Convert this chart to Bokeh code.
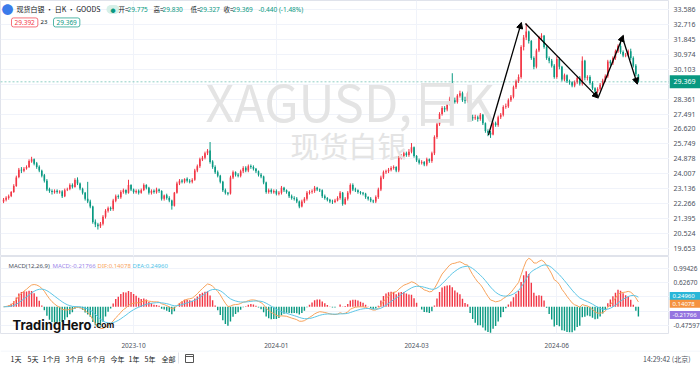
import numpy as np
import pandas as pd
from bokeh.plotting import figure
from bokeh.models import (Range1d, FixedTicker, Label, Span, Arrow, NormalHead,
                          ColumnDataSource, LinearAxis)
from bokeh.layouts import column, row
from bokeh.embed import file_html
from bokeh.resources import INLINE
from bokeh.core.properties import value

# ---------------- data ----------------
opens = [
    22.40, 22.50, 22.60, 22.72, 22.95, 23.30, 23.82, 24.25, 24.18, 24.32,
    24.40, 24.72, 24.85, 24.62, 24.42, 24.18, 23.92, 23.60, 23.12, 23.00,
    22.93, 23.02, 22.94, 22.98, 22.70, 23.06, 23.12, 23.36, 23.24, 23.66,
    23.45, 23.14, 22.90, 22.56, 22.40, 22.10, 21.22, 21.05, 20.95, 21.10,
    21.50, 21.86, 22.02, 21.95, 22.44, 22.72, 22.64, 22.95, 23.06, 22.90,
    23.36, 23.10, 22.94, 23.02, 22.90, 23.06, 23.36, 23.20, 22.90, 23.02,
    22.94, 23.10, 23.00, 22.55, 22.76, 22.60, 22.45, 22.15, 22.90, 23.45,
    23.62, 23.55, 23.72, 23.60, 23.55, 23.66, 24.20, 24.45, 24.84, 24.95,
    25.20, 25.36, 24.72, 24.40, 24.10, 23.90, 23.55, 23.05, 22.90, 22.86,
    23.80, 24.10, 23.95, 23.90, 24.15, 24.36, 24.20, 24.46, 24.40, 24.30,
    24.15, 23.95, 23.85, 23.50, 22.95, 23.06, 22.94, 23.00, 22.85, 22.90,
    23.20, 23.05, 22.95, 22.70, 22.60, 22.56, 22.40, 22.10, 22.40, 22.55,
    22.90, 22.96, 23.00, 23.20, 23.10, 23.05, 22.70, 22.60, 22.50, 22.40,
    22.36, 22.45, 22.60, 22.90, 22.25, 22.55, 22.90, 23.36, 23.10, 23.05,
    22.95, 22.90, 22.85, 22.65, 22.55, 22.45, 22.40, 22.65, 23.10, 23.80,
    24.10, 24.15, 24.25, 24.35, 24.40, 24.20, 24.95, 25.05, 25.20, 25.10,
    25.30, 25.55, 25.05, 24.80, 24.65, 24.70, 24.55, 24.85, 24.75, 25.20,
    26.15, 26.90, 27.50, 27.85, 27.75, 28.10, 28.40, 28.30, 28.20, 28.55,
    28.70, 28.30, 28.25, 28.70, 27.30, 27.25, 27.30, 27.20, 27.45, 26.95,
    26.50, 26.40, 26.30, 26.95, 26.85, 27.30, 27.45, 27.90, 27.95, 28.30,
    28.50, 29.05, 29.40, 29.65, 31.40, 31.95, 32.30, 31.75, 30.75, 30.25,
    31.20, 31.95, 32.05, 31.40, 30.75, 30.60, 30.30, 29.65, 30.70, 30.25,
    29.50, 29.75, 29.40, 29.35, 29.15, 29.35, 29.60, 29.25, 30.60, 29.60,
    29.65, 29.30, 29.00, 28.80, 28.95, 29.20, 29.45, 29.70, 30.55, 30.45,
    30.75, 31.15, 31.45, 31.10, 30.90, 30.95, 31.15, 30.75, 30.30, 29.775,
]
highs = [
    22.60, 22.70, 22.80, 23.00, 23.40, 23.90, 24.35, 24.40, 24.40, 24.50,
    24.85, 25.00, 24.90, 24.70, 24.50, 24.25, 24.00, 23.70, 23.20, 23.10,
    23.10, 23.10, 23.05, 23.05, 23.15, 23.20, 23.45, 23.45, 23.75, 23.80,
    23.50, 23.20, 22.95, 23.54, 22.50, 22.15, 21.35, 21.15, 21.20, 21.60,
    21.95, 22.10, 22.10, 22.55, 22.80, 22.80, 23.05, 23.15, 23.10, 23.66,
    23.40, 23.15, 23.10, 23.10, 23.15, 23.45, 23.40, 23.25, 23.10, 23.10,
    23.20, 23.15, 23.05, 22.80, 22.85, 22.70, 22.50, 22.95, 23.55, 23.70,
    23.70, 23.75, 23.80, 23.70, 23.75, 24.30, 24.55, 24.95, 25.05, 25.30,
    25.45, 25.86, 24.80, 24.50, 24.20, 23.95, 23.60, 23.15, 22.95, 23.90,
    24.20, 24.15, 24.05, 24.25, 24.45, 24.45, 24.55, 24.55, 24.50, 24.35,
    24.20, 24.05, 23.90, 23.55, 23.15, 23.15, 23.10, 23.10, 23.00, 23.30,
    23.25, 23.10, 23.00, 22.80, 22.70, 22.65, 22.45, 22.50, 22.65, 23.00,
    23.05, 23.10, 23.30, 23.25, 23.15, 23.10, 22.80, 22.65, 22.55, 22.50,
    22.55, 22.70, 23.00, 22.95, 22.65, 23.00, 23.45, 23.45, 23.20, 23.10,
    23.00, 22.95, 22.90, 22.70, 22.65, 22.50, 22.75, 23.20, 23.90, 24.20,
    24.25, 24.35, 24.45, 24.50, 24.45, 25.05, 25.15, 25.30, 25.30, 25.45,
    25.80, 25.60, 25.10, 24.90, 24.80, 24.75, 24.95, 24.90, 25.30, 26.25,
    27.00, 27.60, 27.95, 27.95, 28.20, 28.50, 29.87, 28.45, 28.65, 28.85,
    28.80, 28.50, 28.80, 28.75, 27.45, 27.45, 27.40, 27.55, 27.50, 27.00,
    26.60, 26.50, 27.05, 27.05, 27.40, 27.55, 28.00, 28.10, 28.40, 28.60,
    29.15, 29.50, 29.80, 31.50, 32.10, 32.77, 32.35, 31.80, 30.85, 31.30,
    32.05, 32.20, 32.10, 31.45, 30.85, 30.70, 30.40, 30.85, 30.80, 30.30,
    29.85, 29.80, 29.50, 29.40, 29.45, 29.70, 29.70, 30.85, 30.65, 29.75,
    29.75, 29.40, 29.05, 29.05, 29.30, 29.55, 29.80, 30.65, 30.65, 30.85,
    31.25, 31.55, 31.80, 31.20, 31.05, 31.25, 31.30, 30.85, 30.40, 29.830,
]
lows = [
    22.30, 22.40, 22.50, 22.65, 22.90, 23.25, 23.75, 24.05, 24.10, 24.25,
    24.35, 24.65, 24.50, 24.30, 24.10, 23.80, 23.50, 23.00, 22.90, 22.80,
    22.85, 22.85, 22.85, 22.60, 22.65, 23.00, 23.05, 23.15, 23.20, 23.35,
    23.05, 22.80, 22.45, 22.30, 22.00, 21.10, 20.90, 20.76, 20.85, 21.00,
    21.40, 21.75, 21.85, 21.85, 22.35, 22.55, 22.55, 22.85, 22.80, 22.85,
    23.00, 22.85, 22.85, 22.80, 22.85, 23.00, 23.10, 22.80, 22.80, 22.85,
    22.85, 22.90, 22.45, 22.45, 22.50, 22.35, 21.92, 22.10, 22.85, 23.35,
    23.45, 23.45, 23.50, 23.45, 23.45, 23.60, 24.10, 24.35, 24.75, 24.85,
    25.10, 24.60, 24.30, 24.00, 23.80, 23.45, 22.95, 22.80, 22.75, 22.80,
    23.70, 23.85, 23.80, 23.80, 24.05, 24.10, 24.10, 24.30, 24.20, 24.05,
    23.85, 23.75, 23.40, 22.85, 22.85, 22.85, 22.85, 22.75, 22.75, 22.80,
    22.95, 22.85, 22.60, 22.50, 22.45, 22.30, 22.00, 22.05, 22.30, 22.45,
    22.80, 22.85, 22.90, 23.00, 22.95, 22.60, 22.50, 22.40, 22.30, 22.25,
    22.30, 22.40, 22.50, 22.15, 22.20, 22.45, 22.80, 23.00, 22.95, 22.85,
    22.80, 22.75, 22.55, 22.45, 22.35, 22.30, 22.30, 22.55, 23.00, 23.70,
    24.00, 24.05, 24.15, 24.25, 24.10, 24.10, 24.85, 24.95, 25.00, 25.00,
    25.20, 24.95, 24.70, 24.55, 24.55, 24.45, 24.45, 24.65, 24.65, 25.10,
    26.05, 26.80, 27.40, 27.60, 27.65, 28.00, 28.20, 28.10, 28.10, 28.45,
    28.20, 28.10, 28.15, 27.20, 27.10, 27.15, 27.05, 27.10, 26.85, 26.40,
    26.20, 26.10, 26.25, 26.75, 26.75, 27.20, 27.35, 27.80, 27.85, 28.20,
    28.40, 28.95, 29.30, 29.55, 31.20, 31.80, 31.60, 30.65, 30.10, 30.15,
    31.10, 31.80, 31.30, 30.65, 30.45, 30.20, 29.55, 29.55, 30.10, 29.40,
    29.40, 29.30, 29.20, 29.05, 29.05, 29.25, 29.15, 29.15, 29.45, 29.45,
    29.20, 28.90, 28.60, 28.70, 28.85, 29.10, 29.35, 29.60, 30.30, 30.35,
    30.65, 31.05, 31.00, 30.80, 30.80, 30.85, 30.65, 30.20, 29.70, 29.327,
]
closes = [
    22.50, 22.62, 22.70, 22.95, 23.30, 23.80, 24.25, 24.20, 24.30, 24.40,
    24.75, 24.85, 24.60, 24.40, 24.20, 23.90, 23.60, 23.10, 23.00, 22.95,
    23.00, 22.95, 22.98, 22.70, 23.05, 23.10, 23.35, 23.25, 23.65, 23.45,
    23.15, 22.90, 22.55, 22.40, 22.10, 21.20, 21.05, 20.95, 21.10, 21.50,
    21.85, 22.00, 21.95, 22.45, 22.70, 22.65, 22.95, 23.05, 22.90, 23.35,
    23.10, 22.95, 23.00, 22.90, 23.05, 23.35, 23.20, 22.90, 23.00, 22.95,
    23.10, 23.00, 22.55, 22.75, 22.60, 22.45, 22.15, 22.90, 23.45, 23.60,
    23.55, 23.70, 23.60, 23.55, 23.65, 24.20, 24.45, 24.85, 24.95, 25.20,
    25.35, 24.70, 24.40, 24.10, 23.90, 23.55, 23.05, 22.90, 22.85, 23.80,
    24.10, 23.95, 23.90, 24.15, 24.35, 24.20, 24.45, 24.40, 24.30, 24.15,
    23.95, 23.85, 23.50, 22.95, 23.05, 22.95, 23.00, 22.85, 22.90, 23.20,
    23.05, 22.95, 22.70, 22.60, 22.55, 22.40, 22.10, 22.40, 22.55, 22.90,
    22.95, 23.00, 23.20, 23.10, 23.05, 22.70, 22.60, 22.50, 22.40, 22.38,
    22.45, 22.60, 22.90, 22.25, 22.55, 22.90, 23.35, 23.10, 23.05, 22.95,
    22.90, 22.85, 22.65, 22.55, 22.45, 22.40, 22.65, 23.10, 23.80, 24.10,
    24.15, 24.25, 24.35, 24.40, 24.20, 24.95, 25.05, 25.20, 25.10, 25.30,
    25.55, 25.05, 24.80, 24.65, 24.70, 24.55, 24.85, 24.75, 25.20, 26.15,
    26.90, 27.50, 27.85, 27.75, 28.10, 28.40, 28.30, 28.20, 28.55, 28.70,
    28.30, 28.25, 28.70, 27.30, 27.25, 27.30, 27.20, 27.45, 26.95, 26.50,
    26.40, 26.30, 26.95, 26.85, 27.30, 27.45, 27.90, 27.95, 28.30, 28.50,
    29.05, 29.40, 29.65, 31.40, 31.95, 32.30, 31.75, 30.75, 30.25, 31.20,
    31.95, 32.05, 31.40, 30.75, 30.60, 30.30, 29.65, 30.70, 30.25, 29.50,
    29.75, 29.40, 29.35, 29.15, 29.35, 29.60, 29.25, 30.60, 29.60, 29.65,
    29.30, 29.00, 28.80, 28.95, 29.20, 29.45, 29.70, 30.55, 30.45, 30.75,
    31.15, 31.45, 31.10, 30.90, 30.95, 31.15, 30.75, 30.30, 29.809, 29.369,
]

price_ticks = [19.653, 20.524, 21.395, 22.266, 23.136, 24.007, 24.878, 25.749,
               26.620, 27.491, 28.361, 29.232, 30.103, 30.974, 31.845, 32.716, 33.586]
price_tick_labels = ["19.653", "20.524", "21.395", "22.266", "23.136", "24.007", "24.878",
                     "25.749", "26.620", "27.491", "28.361", "", "30.103", "30.974",
                     "31.845", "32.716", "33.586"]
macd_ticks = [0.99426, 0.62670, 0.25914, -0.10842, -0.47597]
macd_tick_labels = ["0.99426", "0.62670", "", "", "-0.47597"]
date_ticks = [51, 107, 162, 217]
date_labels = ["2023-10", "2024-01", "2024-03", "2024-06"]
range_buttons = ["1天", "5天", "1个月", "3个月", "6个月", "今年", "1年", "5年", "全部"]
clock_text = "14:29:42 (北京)"

last_open, last_high, last_low, last_close = 29.775, 29.830, 29.327, 29.369
change, change_pct = -0.440, -1.48
bid_price, spread, ask_price = 29.392, 23, 29.369
macd_last, dif_last, dea_last = -0.21766, 0.14078, 0.24960

# trend arrows drawn on the chart (candle index, price)
arrow_starts = [(190.2, 26.27), (204.7, 32.77), (233.3, 28.48), (243.1, 31.79)]
arrow_ends = [(203.1, 32.83), (233.3, 28.42), (243.1, 32.08), (248.6, 29.23)]

# ---------------- styling ----------------
UP = "#F23645"
DOWN = "#089981"
GRID = "#f0f3fa"
BORDER = "#e0e3eb"
TXT = "#131722"
AX = "#4c525e"
CJK = "Noto Sans CJK SC"
FW, AW = 669, 31          # chart frame width, price-scale width
H1, H2, HF = 256, 94, 15  # price panel, MACD panel (+date axis), footer
MB = 16                   # date-axis band under the MACD frame

n = len(closes)
idx = np.arange(n)
o = np.array(opens); h = np.array(highs); l = np.array(lows); c = np.array(closes)
up = c >= o
src = ColumnDataSource(dict(
    x=idx, o=o, h=h, l=l, c=c,
    top=np.maximum(o, c), bot=np.minimum(o, c),
    color=[UP if u else DOWN for u in up]))

cs = pd.Series(c)
dif = cs.ewm(span=12, adjust=False).mean() - cs.ewm(span=26, adjust=False).mean()
dea = dif.ewm(span=9, adjust=False).mean()
hist = 2 * (dif - dea)
msrc = ColumnDataSource(dict(x=idx, dif=dif.values, dea=dea.values, hist=hist.values,
                             color=[UP if v >= 0 else DOWN for v in hist.values]))

x_range = Range1d(-1.2, 261.2)
y1_range = Range1d(19.189, 34.108)
y2_range = Range1d(-0.687, 1.296)


def lab(p, px, y, text, size="6.5px", color=TXT, font="Noto Sans", baseline="middle", **kw):
    """text placed px pixels from the left edge of the frame, at data y"""
    p.add_layout(Label(x=0, x_units="screen", x_offset=px, y=y, text=text,
                       text_font=font, text_font_size=size, text_color=color,
                       text_align="left", text_baseline=baseline, **kw))


def base_fig(width, height, y_range, x_rng, bottom=0):
    p = figure(width=width, height=height, x_range=x_rng, y_range=y_range,
               output_backend="svg", toolbar_location=None, x_axis_location=None,
               y_axis_location=None, min_border_left=0, min_border_right=0,
               min_border_top=0, min_border_bottom=bottom)
    p.background_fill_color = "white"
    p.border_fill_color = "white"
    return p


def price_scale(p, ticks, labels, size):
    p.grid.visible = False
    p.outline_line_color = None
    p.text(x=4, y=ticks, text=labels, text_font=value("Noto Sans"), text_font_size=size,
           text_color=AX, text_baseline="middle", text_align="left")


# ---------------- price panel ----------------
p1 = base_fig(FW, H1, y1_range, x_range)
p1.outline_line_color = BORDER
p1.ygrid.ticker = FixedTicker(ticks=price_ticks)
p1.xgrid.ticker = FixedTicker(ticks=date_ticks)
p1.grid.grid_line_color = GRID

# watermark
lab(p1, 205, 28.30, "XAGUSD,日K", size="50px", color="#e4e4e4", font=CJK)
lab(p1, 290, 25.69, "现货白银", size="29px", color="#e4e4e4", font=CJK)

# last price line
p1.add_layout(Span(location=last_close, dimension="width", line_color=DOWN, line_alpha=0.45,
                   line_dash="2 2", line_width=1))

p1.segment(x0="x", y0="l", x1="x", y1="h", color="color", line_width=1, source=src)
p1.vbar(x="x", top="top", bottom="bot", width=0.62, fill_color="color", line_color=None,
        source=src)

for (x0, y0), (x1, y1) in zip(arrow_starts, arrow_ends):
    p1.add_layout(Arrow(x_start=x0, y_start=y0, x_end=x1, y_end=y1, line_color="black",
                        line_width=1.3,
                        end=NormalHead(size=6, fill_color="black", line_color="black")))

# header
HY1, HY2 = 33.59, 32.83
lab(p1, 1, HY1, "●", size="12px", color="#3a7bea", font=CJK)
lab(p1, 16, HY1, "现货白银 · 日K · GOODS", size="7px", font=CJK)
lab(p1, 106, HY1, "●", size="5px", color=DOWN, font=CJK,
    background_fill_color="#d6f0e8", padding=(4, 1), border_radius=5)
hdr = [("开=", 118, f"{last_open:.3f}", 127), ("高=", 153, f"{last_high:.3f}", 162),
       ("低=", 190, f"{last_low:.3f}", 199), ("收=", 223, f"{last_close:.3f}", 232)]
for k, xk, v, xv in hdr:
    lab(p1, xk, HY1, k, size="6.5px", font=CJK)
    lab(p1, xv, HY1, v, size="6.5px", color=DOWN)
lab(p1, 258, HY1, f"{change:.3f} ({change_pct:.2f}%)", size="6.5px", color=DOWN)
lab(p1, 11, HY2, f"{bid_price:.3f}", size="6.5px", color=UP, background_fill_color="white",
    border_line_color=UP, border_line_alpha=0.7, padding=(3, 2), border_radius=2)
lab(p1, 40, HY2, str(spread), size="6px")
lab(p1, 53, HY2, f"{ask_price:.3f}", size="6.5px", color=DOWN, background_fill_color="white",
    border_line_color=DOWN, border_line_alpha=0.7, padding=(3, 2), border_radius=2)

# price scale
a1 = base_fig(AW, H1, y1_range, Range1d(0, AW))
price_scale(a1, price_ticks, price_tick_labels, value("7px"))
a1.rect(x=AW / 2, y=[last_close], width=AW, height=13, height_units="screen",
        fill_color=DOWN, line_color=None)
a1.text(x=4, y=[last_close], text=[f"{last_close:.3f}"], text_font=value("Noto Sans"),
        text_font_size=value("7px"), text_color="white", text_baseline="middle")

# ---------------- MACD panel ----------------
p2 = base_fig(FW, H2, y2_range, x_range, bottom=MB)
p2.outline_line_color = BORDER
p2.ygrid.ticker = FixedTicker(ticks=macd_ticks)
p2.xgrid.ticker = FixedTicker(ticks=date_ticks)
p2.grid.grid_line_color = GRID
axx = LinearAxis(ticker=FixedTicker(ticks=date_ticks),
                 major_label_overrides={t: s for t, s in zip(date_ticks, date_labels)})
axx.major_tick_line_color = None
axx.minor_tick_line_color = None
axx.axis_line_color = None
axx.major_label_text_font_size = "6.5px"
axx.major_label_text_color = AX
axx.major_label_text_font = "Noto Sans"
axx.major_label_standoff = 3
p2.add_layout(axx, "below")

p2.vbar(x="x", top="hist", bottom=0, width=0.55, fill_color="color", line_color=None,
        source=msrc)
p2.line(x="x", y="dif", line_color="#f7a35c", line_width=1, source=msrc)
p2.line(x="x", y="dea", line_color="#5ec6e6", line_width=1, source=msrc)

MY = 1.045
for txt, px, col in [("MACD(12,26,9)", 8, "#4c525e"),
                     (f"MACD:{macd_last:.5f}", 52, "#9d86e9"),
                     (f"DIF:{dif_last:.5f}", 97, "#f7a35c"),
                     (f"DEA:{dea_last:.5f}", 132, "#4fc3e8")]:
    lab(p2, px, MY, txt, size="6px", color=col)

# logo
lab(p2, 12, -0.47, "TradingHero", size="13px", color="#111111", font="Inter",
    baseline="alphabetic", text_font_style="bold")
lab(p2, 93, -0.47, ".com", size="8.5px", color="#111111", font="Inter",
    baseline="alphabetic", text_font_style="bold")

# MACD scale
a2 = base_fig(AW, H2, y2_range, Range1d(0, AW), bottom=MB)
price_scale(a2, macd_ticks, macd_tick_labels, value("6.5px"))
tag_vals = [dea_last, dif_last, macd_last]
tag_pos = [dea_last + 0.03, dif_last - 0.06, macd_last + 0.01]
tag_cols = ["#29b6d8", "#f5923e", "#9575e0"]
a2.rect(x=AW / 2, y=tag_pos, width=AW, height=8, height_units="screen",
        fill_color=tag_cols, line_color=None)
a2.text(x=3, y=tag_pos, text=[f"{v:.5f}" for v in tag_vals], text_font=value("Noto Sans"),
        text_font_size=value("6px"), text_color="white", text_baseline="middle")

# ---------------- footer (range buttons, clock) ----------------
pf = base_fig(FW + AW, HF, Range1d(0, HF), Range1d(0, FW + AW))
pf.grid.visible = False
pf.outline_line_color = None
btn_x = [10, 27, 42, 65, 87, 110, 128, 144, 161]
pf.text(x=btn_x, y=7, text=range_buttons, text_font=value(CJK), text_font_size=value("7px"),
        text_color=TXT, text_baseline="middle", text_align="left")
pf.segment(x0=178, y0=2, x1=178, y1=13, line_color=BORDER, line_width=1)
pf.quad(left=185, right=193, bottom=3, top=11, fill_color=None, line_color="#555555",
        line_width=1)
pf.segment(x0=185, y0=9, x1=193, y1=9, line_color="#555555", line_width=1)
pf.text(x=690, y=7, text=[clock_text], text_font=value(CJK), text_font_size=value("7px"),
        text_color=AX, text_baseline="middle", text_align="right")
pf.add_layout(Span(location=HF - 0.5, dimension="width", line_color=GRID, line_width=1))

layout = column(row(p1, a1, spacing=0), row(p2, a2, spacing=0), pf, spacing=0)
open("out.html", "w").write(file_html(layout, INLINE, title="XAGUSD"))
